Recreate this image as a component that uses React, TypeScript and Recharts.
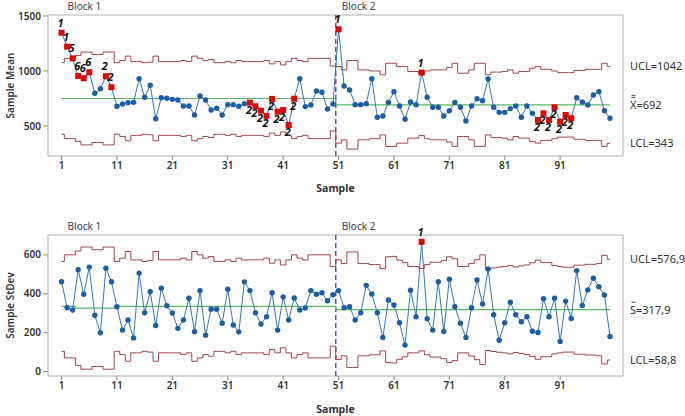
import React from "react";
import { ComposedChart, Line, XAxis, YAxis, ReferenceLine, ReferenceArea } from "recharts";

const samples = Array.from({ length: 100 }, (_, i) => i + 1);
const xTicks = [1, 11, 21, 31, 41, 51, 61, 71, 81, 91];
const blockNames = ["Block 1", "Block 2"];
const blockStarts = [1, 50.5];

// Xbar chart
const sampleMeans = [
  1348, 1221, 1115, 955, 934, 988, 797, 839, 952, 852,
  679, 700, 712, 715, 930, 761, 870, 566, 757, 752,
  742, 736, 682, 682, 600, 773, 736, 645, 661, 600,
  694, 694, 679, 703, 712, 679, 639, 591, 746, 630,
  645, 509, 748, 930, 676, 691, 818, 806, 655, 700,
  1379, 864, 827, 694, 694, 703, 930, 579, 591, 715,
  812, 682, 561, 718, 694, 985, 761, 670, 670, 591,
  639, 715, 670, 545, 682, 748, 730, 927, 670, 624,
  624, 658, 682, 579, 682, 615, 555, 615, 555, 670,
  539, 600, 570, 757, 718, 691, 782, 812, 639, 570,
];
const meanUcl = [
  1075, 1115, 1115, 1140, 1172, 1172, 1150, 1150, 1172, 1172,
  1075, 1095, 1135, 1085, 1085, 1075, 1080, 1135, 1085, 1085,
  1085, 1085, 1095, 1085, 1135, 1115, 1095, 1105, 1075, 1075,
  1085, 1075, 1095, 1085, 1085, 1085, 1085, 1095, 1065, 1085,
  1055, 1085, 1115, 1095, 1085, 1115, 1115, 1115, 1115, 1045,
  1040, 1010, 1095, 1095, 1010, 1010, 1000, 1000, 965, 1070,
  1070, 1040, 1040, 995, 995, 970, 1000, 1010, 1010, 1010,
  1030, 1070, 980, 980, 1010, 1070, 1070, 965, 990, 990,
  995, 1010, 980, 995, 995, 1025, 1040, 1015, 1015, 1000,
  985, 985, 985, 1005, 1005, 1015, 1015, 1015, 1070, 1042,
];
const meanLcl = [
  425, 385, 385, 360, 328, 328, 350, 350, 328, 328,
  425, 405, 365, 415, 415, 425, 420, 365, 415, 415,
  415, 415, 405, 415, 365, 385, 405, 395, 425, 425,
  415, 425, 405, 415, 415, 415, 415, 405, 435, 415,
  445, 415, 385, 405, 415, 385, 385, 385, 385, 455,
  344, 374, 289, 289, 374, 374, 384, 384, 419, 314,
  314, 344, 344, 389, 389, 414, 384, 374, 374, 374,
  354, 314, 404, 404, 374, 314, 314, 419, 394, 394,
  389, 374, 404, 389, 389, 359, 344, 369, 369, 384,
  399, 399, 399, 379, 379, 369, 369, 369, 314, 342,
];
const meanCenter = [
  750, 750, 750, 750, 750, 750, 750, 750, 750, 750,
  750, 750, 750, 750, 750, 750, 750, 750, 750, 750,
  750, 750, 750, 750, 750, 750, 750, 750, 750, 750,
  750, 750, 750, 750, 750, 750, 750, 750, 750, 750,
  750, 750, 750, 750, 750, 750, 750, 750, 750, 750,
  692, 692, 692, 692, 692, 692, 692, 692, 692, 692,
  692, 692, 692, 692, 692, 692, 692, 692, 692, 692,
  692, 692, 692, 692, 692, 692, 692, 692, 692, 692,
  692, 692, 692, 692, 692, 692, 692, 692, 692, 692,
  692, 692, 692, 692, 692, 692, 692, 692, 692, 692,
];
const meanFlagSamples = [1, 2, 3, 4, 5, 6, 9, 10, 35, 36, 37, 38, 39, 40, 41, 42, 43, 51, 66, 87, 88, 89, 90, 91, 92, 93];
const meanFlagTests = ["1", "1", "5", "6", "6", "6", "2", "2", "2", "2", "2", "2", "2", "2", "2", "2", "2", "1", "1", "2", "2", "2", "2", "2", "2", "2"];
const meanSummary = [1042, 692, 343];

// S chart
const sampleStDevs = [
  462, 328, 316, 523, 397, 537, 289, 199, 531, 462,
  333, 213, 265, 173, 506, 302, 411, 237, 428, 338,
  301, 222, 265, 377, 205, 416, 187, 320, 320, 248,
  423, 239, 204, 461, 416, 302, 244, 282, 405, 213,
  384, 265, 378, 316, 327, 416, 397, 405, 364, 395,
  416, 328, 333, 265, 302, 443, 399, 302, 175, 368,
  342, 251, 136, 418, 282, 667, 271, 213, 462, 206,
  475, 333, 248, 175, 328, 471, 347, 527, 292, 161,
  251, 356, 292, 256, 282, 207, 201, 374, 282, 377,
  155, 362, 273, 519, 340, 420, 480, 436, 394, 180,
];
const sdUcl = [
  566, 600, 600, 620, 640, 640, 626, 626, 640, 640,
  566, 583, 617, 574, 574, 566, 570, 617, 574, 574,
  574, 574, 583, 574, 617, 600, 583, 591, 566, 566,
  574, 566, 583, 574, 574, 574, 574, 583, 557, 574,
  548, 574, 600, 583, 574, 600, 600, 600, 600, 540,
  574, 555, 615, 615, 555, 555, 550, 550, 530, 590,
  592, 573, 560, 540, 540, 530, 550, 562, 562, 570,
  590, 580, 540, 540, 556, 575, 600, 528, 533, 537,
  540, 545, 538, 543, 548, 559, 573, 560, 560, 545,
  540, 536, 536, 547, 547, 551, 551, 555, 597, 577,
];
const sdLcl = [
  104, 70, 70, 32, 12, 12, 26, 26, 12, 12,
  104, 87, 53, 96, 96, 104, 100, 53, 96, 96,
  96, 96, 87, 96, 53, 70, 87, 79, 104, 104,
  96, 104, 87, 96, 96, 96, 96, 87, 113, 96,
  122, 96, 70, 87, 96, 70, 70, 70, 70, 130,
  62, 81, 21, 21, 81, 81, 86, 86, 106, 46,
  44, 63, 76, 96, 96, 106, 86, 74, 74, 66,
  46, 56, 96, 96, 80, 61, 36, 108, 103, 99,
  96, 91, 98, 93, 88, 77, 63, 76, 76, 91,
  96, 100, 100, 89, 89, 85, 85, 81, 39, 59,
];
const sdCenter = [
  335, 335, 335, 326, 326, 326, 326, 326, 326, 326,
  335, 335, 335, 335, 335, 335, 335, 335, 335, 335,
  335, 335, 335, 335, 335, 335, 335, 335, 335, 335,
  335, 335, 335, 335, 335, 335, 335, 335, 335, 335,
  335, 335, 335, 335, 335, 335, 335, 335, 335, 335,
  318, 318, 318, 318, 318, 318, 318, 318, 318, 318,
  318, 318, 318, 318, 318, 318, 318, 318, 318, 318,
  318, 318, 318, 318, 318, 318, 318, 318, 318, 318,
  318, 318, 318, 318, 318, 318, 318, 318, 318, 318,
  318, 318, 318, 318, 318, 318, 318, 318, 318, 318,
];
const sdFlagSamples = [66];
const sdFlagTests = ["1"];
const sdSummary = [576.9, 317.9, 58.8];

const X_DOMAIN = [-1.45, 102.35];
const FONT = "'Noto Sans', 'Open Sans', sans-serif";

const fmt = (v: number) => String(v).replace(".", ",");

const makeDot = (flagSamples: number[], flagTests: string[]) => (props: any) => {
  const { cx, cy, payload, index } = props;
  const k = flagSamples.indexOf(payload.sample);
  if (k < 0) {
    return <circle key={`d${index}`} cx={cx} cy={cy} r={2.7} fill="#1a5ea8" stroke="none" />;
  }
  const below = payload.value <= payload.cl + 10;
  return (
    <g key={`d${index}`}>
      <rect x={cx - 3} y={cy - 3} width={6} height={6} fill="#e00000" />
      <text
        x={cx - 1}
        y={below ? cy + 11 : cy - 6}
        textAnchor="middle"
        fontSize={11}
        fontWeight={700}
        fontStyle="italic"
        fill="#111"
      >
        {flagTests[k]}
      </text>
    </g>
  );
};

const sideLabel = (text: string, bars: number) => (props: any) => {
  const { viewBox } = props;
  const x = viewBox.x + viewBox.width + 7;
  const y = viewBox.y;
  return (
    <g>
      <text x={x} y={y} dy="0.36em" fontSize={11} fill="#333">
        {text}
      </text>
      {bars >= 1 && <line x1={x + 1.5} x2={x + 5.5} y1={y - 7.5} y2={y - 7.5} stroke="#333" strokeWidth={0.9} />}
      {bars >= 2 && <line x1={x + 1.5} x2={x + 5.5} y1={y - 9.5} y2={y - 9.5} stroke="#333" strokeWidth={0.9} />}
    </g>
  );
};

type PanelProps = {
  values: number[];
  ucl: number[];
  lcl: number[];
  center: number[];
  flagSamples: number[];
  flagTests: string[];
  summary: number[];
  centerSymbol: string;
  bars: number;
  yDomain: number[];
  yTicks: number[];
  yLabel: string;
  top: number;
  marginTop: number;
  marginBottom: number;
  xAxisHeight: number;
};

const ControlPanel = (p: PanelProps) => {
  const data = samples.map((s, i) => ({
    sample: s,
    value: p.values[i],
    ucl: p.ucl[i],
    lcl: p.lcl[i],
    cl: p.center[i],
  }));
  return (
    <div style={{ position: "absolute", left: 0, top: p.top }}>
      <ComposedChart
        width={685}
        height={208}
        data={data}
        margin={{ top: p.marginTop, right: 62, bottom: p.marginBottom, left: 0 }}
        style={{ overflow: "visible" }}
      >
        <XAxis
          dataKey="sample"
          type="number"
          domain={X_DOMAIN}
          ticks={xTicks}
          height={p.xAxisHeight}
          axisLine={false}
          tickSize={4}
          tickMargin={2}
          tickLine={{ stroke: "#8a8a8a" }}
          tick={{ fontSize: 10, fill: "#333", fontWeight: 600 }}
          label={{
            value: "Sample",
            position: "insideBottom",
            offset: 2,
            style: { fontSize: 10.5, fill: "#333", fontWeight: 700 },
          }}
        />
        <YAxis
          type="number"
          domain={p.yDomain}
          ticks={p.yTicks}
          width={48}
          axisLine={false}
          tickSize={5}
          tickMargin={2}
          tickLine={{ stroke: "#8a8a8a" }}
          tick={{ fontSize: 10, fill: "#333", fontWeight: 600 }}
          label={{
            value: p.yLabel,
            angle: -90,
            position: "insideLeft",
            offset: 10,
            style: { textAnchor: "middle", fontSize: 10, fill: "#333", fontWeight: 600 },
          }}
        />
        <ReferenceArea
          x1={X_DOMAIN[0]}
          x2={X_DOMAIN[1]}
          y1={p.yDomain[0]}
          y2={p.yDomain[1]}
          fill="#fff"
          fillOpacity={0}
          stroke="#b0b0b0"
          strokeWidth={1}
        />
        {blockStarts.map((b, i) => (
          <ReferenceLine
            key={`blk${i}`}
            x={b}
            stroke={i === 0 ? "none" : "#5e4496"}
            strokeWidth={1.4}
            strokeDasharray="5 3"
            label={(lp: any) => (
              <text x={lp.viewBox.x + 6} y={lp.viewBox.y - 5} fontSize={10} fill="#444">
                {blockNames[i]}
              </text>
            )}
          />
        ))}
        <ReferenceLine y={p.summary[0]} stroke="none" label={sideLabel(`UCL=${fmt(p.summary[0])}`, 0)} />
        <ReferenceLine y={p.summary[1]} stroke="none" label={sideLabel(`${p.centerSymbol}=${fmt(p.summary[1])}`, p.bars)} />
        <ReferenceLine y={p.summary[2]} stroke="none" label={sideLabel(`LCL=${fmt(p.summary[2])}`, 0)} />
        <Line type="step" dataKey="ucl" stroke="#a4454e" strokeWidth={1} dot={false} isAnimationActive={false} />
        <Line type="step" dataKey="lcl" stroke="#a4454e" strokeWidth={1} dot={false} isAnimationActive={false} />
        <Line type="step" dataKey="cl" stroke="#5cb85c" strokeWidth={1.2} dot={false} isAnimationActive={false} />
        <Line
          type="linear"
          dataKey="value"
          stroke="#3479ba"
          strokeWidth={1}
          dot={makeDot(p.flagSamples, p.flagTests)}
          isAnimationActive={false}
        />
      </ComposedChart>
    </div>
  );
};

export default function App() {
  return (
    <div
      style={{
        position: "absolute",
        left: 0,
        top: 0,
        width: 685,
        height: 416,
        background: "#fff",
        fontFamily: FONT,
      }}
    >
      <ControlPanel
        values={sampleMeans}
        ucl={meanUcl}
        lcl={meanLcl}
        center={meanCenter}
        flagSamples={meanFlagSamples}
        flagTests={meanFlagTests}
        summary={meanSummary}
        centerSymbol="X"
        bars={2}
        yDomain={[227, 1509]}
        yTicks={[500, 1000, 1500]}
        yLabel="Sample Mean"
        top={0}
        marginTop={15}
        marginBottom={14}
        xAxisHeight={38}
      />
      <ControlPanel
        values={sampleStDevs}
        ucl={sdUcl}
        lcl={sdLcl}
        center={sdCenter}
        flagSamples={sdFlagSamples}
        flagTests={sdFlagTests}
        summary={sdSummary}
        centerSymbol="S"
        bars={1}
        yDomain={[-23, 702]}
        yTicks={[0, 200, 400, 600]}
        yLabel="Sample StDev"
        top={208}
        marginTop={27}
        marginBottom={1}
        xAxisHeight={39}
      />
    </div>
  );
}
